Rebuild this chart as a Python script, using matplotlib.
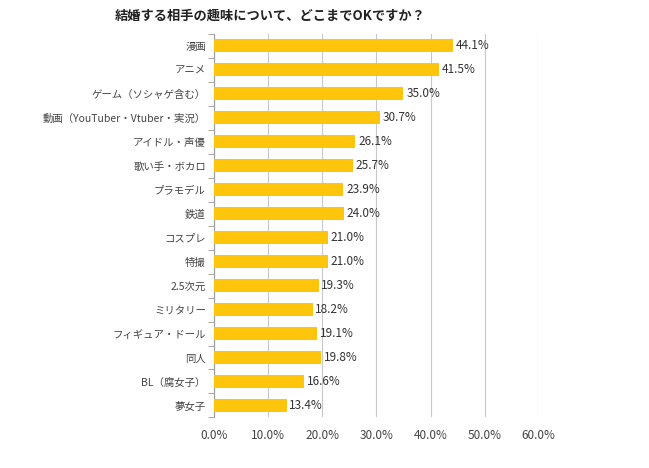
import numpy as np
import matplotlib.pyplot as plt

plt.rcParams['font.family'] = ['Noto Sans CJK JP', 'DejaVu Sans']

categories = ["漫画", "アニメ", "ゲーム（ソシャゲ含む）", "動画（YouTuber・Vtuber・実況）",
              "アイドル・声優", "歌い手・ボカロ", "プラモデル", "鉄道", "コスプレ", "特撮",
              "2.5次元", "ミリタリー", "フィギュア・ドール", "同人", "BL（腐女子）", "夢女子"]
values = [44.1, 41.5, 35.0, 30.7, 26.1, 25.7, 23.9, 24.0, 21.0, 21.0,
          19.3, 18.2, 19.1, 19.8, 16.6, 13.4]
x_ticks = [0, 10, 20, 30, 40, 50, 60]


def main():
    fig = plt.figure(figsize=(6.49, 4.68), dpi=100)
    ax = fig.add_axes([0.330, 0.108, 0.500, 0.820])

    y = np.arange(len(categories))
    ax.barh(y, values, height=0.56, color="#FFC40C", zorder=3)
    for yi, v in zip(y, values):
        ax.text(v + 0.5, yi, f"{v:.1f}%", va="center", ha="left",
                fontsize=8.5, color="#333333")

    ax.set_xlim(0, 60)
    ax.set_ylim(len(categories) - 0.5, -0.5)
    ax.set_xticks(x_ticks)
    ax.set_xticklabels([f"{t:.1f}%" for t in x_ticks], fontsize=8.5,
                       color="#444444")
    ax.set_yticks(y)
    ax.set_yticklabels(categories, fontsize=7.5, color="#444444")
    ax.set_yticks(np.arange(len(categories) + 1) - 0.5, minor=True)
    ax.tick_params(axis="y", which="major", length=0, pad=6)
    ax.tick_params(axis="y", which="minor", length=4, color="#999999")
    ax.tick_params(axis="x", length=0, pad=8)

    ax.grid(axis="x", color="#c8c8c8", linewidth=0.8, zorder=0)
    for s in ["top", "right", "bottom"]:
        ax.spines[s].set_visible(False)
    ax.spines["left"].set_color("#999999")

    fig.text(0.417, 0.967, "結婚する相手の趣味について、どこまでOKですか？",
             ha="center", va="center", fontsize=9.5, fontweight="bold",
             color="#222222")

    fig.savefig("out.png", dpi=100)


if __name__ == "__main__":
    main()
